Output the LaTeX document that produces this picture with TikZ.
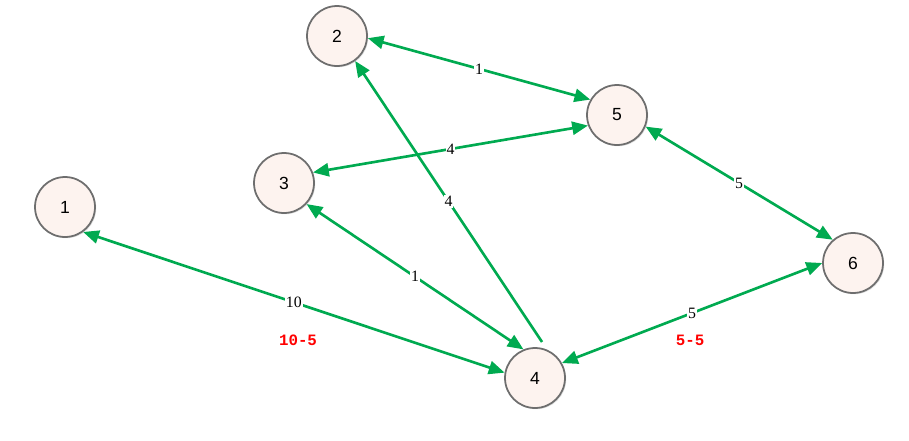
\documentclass[tikz,border=0pt]{standalone}
\usepackage{fontspec}
\setmainfont{Liberation Serif}
\newfontfamily\nodefont{Liberation Sans}
\newfontfamily\costfont{Liberation Mono}
\usetikzlibrary{arrows.meta,shadows}
\definecolor{edgegreen}{RGB}{0,170,80}
\definecolor{nodefill}{RGB}{253,243,239}
\definecolor{nodeline}{RGB}{110,110,110}
\begin{document}
\begin{tikzpicture}[
    x=0.02cm, y=-0.02cm,
    every node/.style={font=\small},
    vertex/.style={draw=nodeline, fill=nodefill, circle, line width=1pt, minimum size=1.2cm, inner sep=0pt,
        font=\nodefont, drop shadow={shadow xshift=0.7pt, shadow yshift=-0.7pt, opacity=0.25}},
    edge/.style={draw=edgegreen, line width=1.5pt, {Triangle[length=9pt,width=7.5pt]}-{Triangle[length=9pt,width=7.5pt]}},
    oneway/.style={draw=edgegreen, line width=1.5pt, -{Triangle[length=9pt,width=7.5pt]}},
    weight/.style={fill=white, inner sep=0.5pt, font=\small},
    cost/.style={text=red, font=\costfont\bfseries\small}
]
\useasboundingbox (0,0) rectangle (909,440);

% vrcholy
\node[vertex] (n1) at (65,207) {1};
\node[vertex] (n2) at (337,36) {2};
\node[vertex] (n3) at (284,183) {3};
\node[vertex] (n4) at (535,378) {4};
\node[vertex] (n5) at (617,115) {5};
\node[vertex] (n6) at (853,263) {6};
\coordinate (s4) at (542,342);

% hrany
\draw[edge] (n2.-4) -- node[weight] {1} (n5.150);
\draw[edge] (n3.20) -- node[weight] {4} (n5.200);
\draw[edge] (n5.-22) -- node[weight] {5} (n6.131);
\draw[edge] (n1.-54) -- node[weight] {10} (n4.170);
\draw[edge] (n3.-43) -- node[weight] {1} (n4.112);
\draw[edge] (n4.29) -- node[weight] {5} (n6.180);
\draw[oneway] (s4) -- node[weight] {4} (n2.-54);

% popisky
\node[cost] (c1) at (298,340) {10-5};
\node[cost] (c2) at (690,340) {5-5};

\end{tikzpicture}
\end{document}
